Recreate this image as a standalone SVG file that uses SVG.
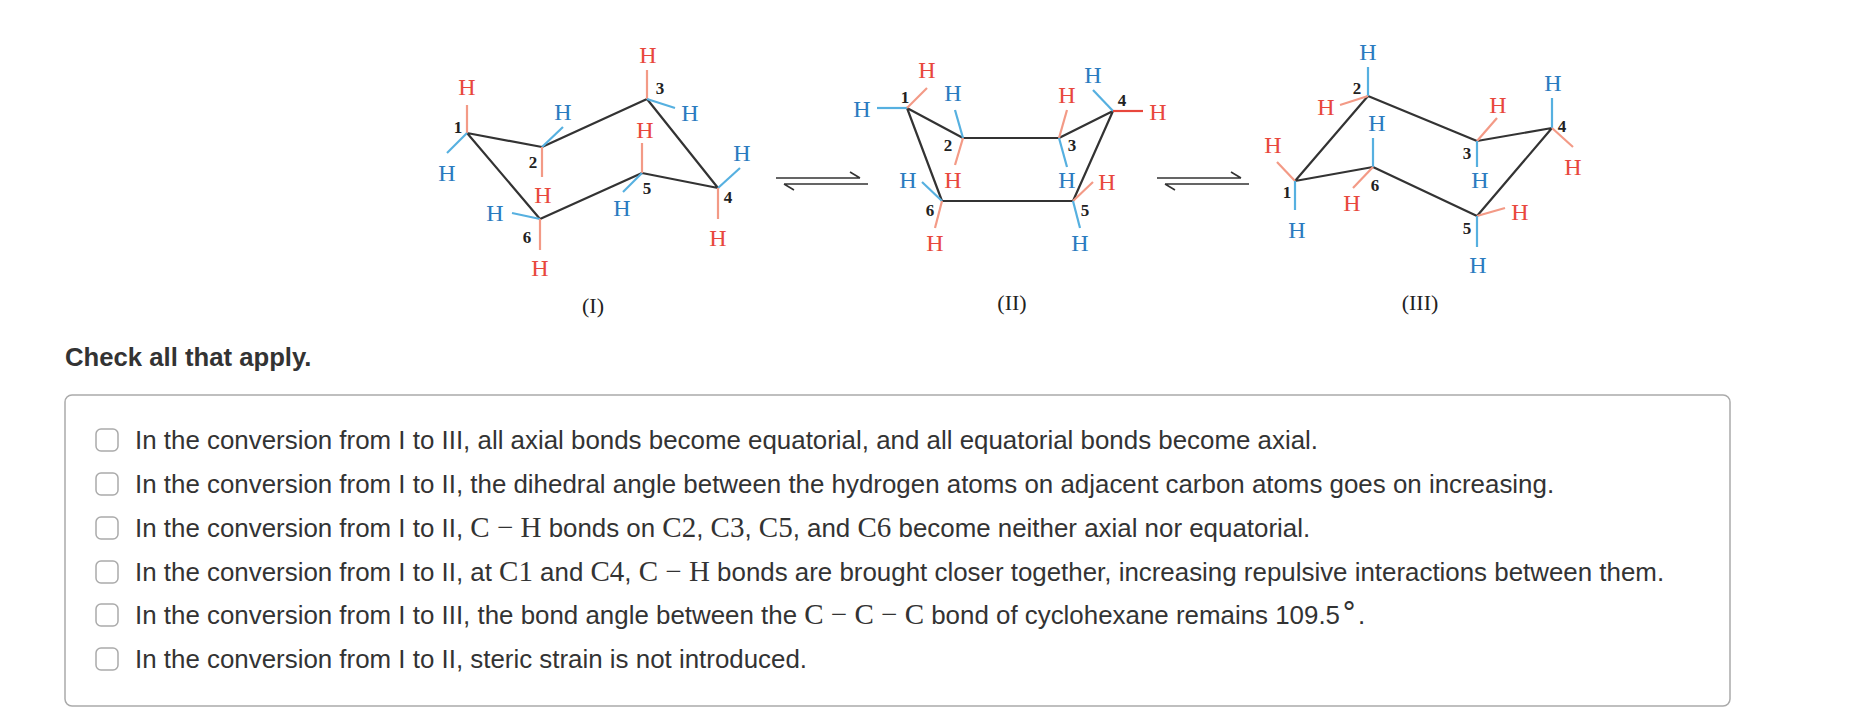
<svg xmlns="http://www.w3.org/2000/svg" width="1850" height="710" viewBox="0 0 1850 710">
<style>
.ring{stroke:#333;stroke-width:2.2;fill:none;stroke-linejoin:round}
.rb{stroke:#f39a86;stroke-width:2.2}
.bb{stroke:#56b0e0;stroke-width:2.2}
.hr{fill:#e8473c;font-family:"Liberation Serif",serif;font-size:24px;text-anchor:middle;dominant-baseline:central}
.hb{fill:#2a7bbf;font-family:"Liberation Serif",serif;font-size:24px;text-anchor:middle;dominant-baseline:central}
.n{fill:#222;font-family:"Liberation Serif",serif;font-size:17px;font-weight:bold;text-anchor:middle;dominant-baseline:central}
.lab{fill:#222;font-family:"Liberation Serif",serif;font-size:22px;text-anchor:middle;dominant-baseline:central}
.arr{stroke:#333;stroke-width:1.6;fill:none}
.opt{fill:#333;font-family:"Liberation Sans",Arial,sans-serif;font-size:25.9px}
.m{font-family:"Liberation Serif",serif;font-size:29px}
.cb{fill:#fff;stroke:#aaa;stroke-width:1.5}
</style>
<rect width="1850" height="710" fill="#fff"/>
<g id="structure-I">
<polygon class="ring" points="467,133 542,147 647,99 718,188 642,173 540,219"/>
<line class="rb" x1="467" y1="133" x2="467" y2="105"/><text class="hr" x="467" y="87">H</text>
<line class="bb" x1="467" y1="133" x2="447" y2="153"/><text class="hb" x="447" y="173">H</text>
<line class="bb" x1="542" y1="147" x2="563" y2="127"/><text class="hb" x="563" y="112">H</text>
<line class="rb" x1="542" y1="147" x2="542" y2="177"/><text class="hr" x="543" y="195">H</text>
<line class="rb" x1="647" y1="99" x2="647" y2="70"/><text class="hr" x="648" y="55">H</text>
<line class="bb" x1="647" y1="99" x2="675" y2="108"/><text class="hb" x="690" y="113">H</text>
<line class="bb" x1="718" y1="188" x2="740" y2="168"/><text class="hb" x="742" y="153">H</text>
<line class="rb" x1="718" y1="188" x2="718" y2="219"/><text class="hr" x="718" y="238">H</text>
<line class="rb" x1="642" y1="173" x2="642" y2="143"/><text class="hr" x="645" y="130">H</text>
<line class="bb" x1="642" y1="173" x2="623" y2="192"/><text class="hb" x="622" y="208">H</text>
<line class="bb" x1="540" y1="219" x2="512" y2="213"/><text class="hb" x="495" y="213">H</text>
<line class="rb" x1="540" y1="219" x2="540" y2="250"/><text class="hr" x="540" y="268">H</text>
<text class="n" x="458" y="127">1</text><text class="n" x="533" y="162">2</text><text class="n" x="660" y="88">3</text>
<text class="n" x="728" y="197">4</text><text class="n" x="647" y="188">5</text><text class="n" x="527" y="237">6</text>
<text class="lab" x="593" y="305">(I)</text>
</g>
<g id="structure-II">
<polyline class="ring" points="963,138 907,108 942,201 1073,201 1113,111 1059,138 963,138"/>
<line class="bb" x1="907" y1="108" x2="877" y2="108"/><text class="hb" x="862" y="109">H</text>
<line class="rb" x1="907" y1="108" x2="927" y2="88"/><text class="hr" x="927" y="70">H</text>
<line class="bb" x1="963" y1="138" x2="955" y2="110"/><text class="hb" x="953" y="93">H</text>
<line class="rb" x1="963" y1="138" x2="955" y2="165"/><text class="hr" x="953" y="180">H</text>
<line class="rb" x1="1059" y1="138" x2="1067" y2="110"/><text class="hr" x="1067" y="95">H</text>
<line class="bb" x1="1059" y1="138" x2="1067" y2="167"/><text class="hb" x="1067" y="180">H</text>
<line class="bb" x1="1113" y1="111" x2="1093" y2="90"/><text class="hb" x="1093" y="75">H</text>
<line class="rb" x1="1113" y1="111" x2="1143" y2="111" style="stroke:#e8473c"/><text class="hr" x="1158" y="112">H</text>
<line class="rb" x1="1073" y1="201" x2="1093" y2="182"/><text class="hr" x="1107" y="182">H</text>
<line class="bb" x1="1073" y1="201" x2="1080" y2="228"/><text class="hb" x="1080" y="243">H</text>
<line class="bb" x1="942" y1="201" x2="922" y2="182"/><text class="hb" x="908" y="180">H</text>
<line class="rb" x1="942" y1="201" x2="935" y2="228"/><text class="hr" x="935" y="243">H</text>
<text class="n" x="905" y="97">1</text><text class="n" x="948" y="145">2</text><text class="n" x="1072" y="145">3</text>
<text class="n" x="1122" y="100">4</text><text class="n" x="1085" y="210">5</text><text class="n" x="930" y="210">6</text>
<text class="lab" x="1012" y="302">(II)</text>
</g>
<g id="structure-III">
<polygon class="ring" points="1295,181 1368,96 1477,141 1552,128 1477,216 1373,167"/>
<line class="rb" x1="1295" y1="181" x2="1277" y2="162"/><text class="hr" x="1273" y="145">H</text>
<line class="bb" x1="1295" y1="181" x2="1295" y2="210"/><text class="hb" x="1297" y="230">H</text>
<line class="bb" x1="1368" y1="96" x2="1368" y2="67"/><text class="hb" x="1368" y="52">H</text>
<line class="rb" x1="1368" y1="96" x2="1340" y2="105"/><text class="hr" x="1326" y="107">H</text>
<line class="rb" x1="1477" y1="141" x2="1497" y2="118"/><text class="hr" x="1498" y="105">H</text>
<line class="bb" x1="1477" y1="141" x2="1477" y2="167"/><text class="hb" x="1480" y="180">H</text>
<line class="bb" x1="1552" y1="128" x2="1552" y2="98"/><text class="hb" x="1553" y="83">H</text>
<line class="rb" x1="1552" y1="128" x2="1573" y2="147"/><text class="hr" x="1573" y="167">H</text>
<line class="rb" x1="1477" y1="216" x2="1505" y2="208"/><text class="hr" x="1520" y="212">H</text>
<line class="bb" x1="1477" y1="216" x2="1477" y2="247"/><text class="hb" x="1478" y="265">H</text>
<line class="bb" x1="1373" y1="167" x2="1373" y2="138"/><text class="hb" x="1377" y="123">H</text>
<line class="rb" x1="1373" y1="167" x2="1353" y2="188"/><text class="hr" x="1352" y="203">H</text>
<text class="n" x="1287" y="192">1</text><text class="n" x="1357" y="88">2</text><text class="n" x="1467" y="153">3</text>
<text class="n" x="1562" y="126">4</text><text class="n" x="1467" y="228">5</text><text class="n" x="1375" y="185">6</text>
<text class="lab" x="1420" y="302">(III)</text>
</g>
<g id="connectors">
<path class="arr" d="M776,178 H860 M850,172 L860,178"/>
<path class="arr" d="M784,184 H868 M784,184 L794,190"/>
<path class="arr" d="M1157,178 H1241 M1231,172 L1241,178"/>
<path class="arr" d="M1165,184 H1249 M1165,184 L1175,190"/>
</g>
<text x="65" y="366" fill="#333" font-family="'Liberation Sans',Arial,sans-serif" font-size="25.7" font-weight="bold">Check all that apply.</text>
<rect x="65" y="395" width="1665" height="311" rx="7" fill="#fff" stroke="#aaa" stroke-width="1.5"/>
<g id="options">
<rect class="cb" x="96" y="429" width="22" height="22" rx="5"/>
<rect class="cb" x="96" y="473" width="22" height="22" rx="5"/>
<rect class="cb" x="96" y="517" width="22" height="22" rx="5"/>
<rect class="cb" x="96" y="561" width="22" height="22" rx="5"/>
<rect class="cb" x="96" y="604" width="22" height="22" rx="5"/>
<rect class="cb" x="96" y="648" width="22" height="22" rx="5"/>
<text class="opt" x="135" y="449">In the conversion from I to III, all axial bonds become equatorial, and all equatorial bonds become axial.</text>
<text class="opt" x="135" y="493">In the conversion from I to II, the dihedral angle between the hydrogen atoms on adjacent carbon atoms goes on increasing.</text>
<text class="opt" x="135" y="537">In the conversion from I to II, <tspan class="m">C − H</tspan> bonds on <tspan class="m">C2</tspan>, <tspan class="m">C3</tspan>, <tspan class="m">C5</tspan>, and <tspan class="m">C6</tspan> become neither axial nor equatorial.</text>
<text class="opt" x="135" y="581">In the conversion from I to II, at <tspan class="m">C1</tspan> and <tspan class="m">C4</tspan>, <tspan class="m">C − H</tspan> bonds are brought closer together, increasing repulsive interactions between them.</text>
<text class="opt" x="135" y="624">In the conversion from I to III, the bond angle between the <tspan class="m">C − C − C</tspan> bond of cyclohexane remains 109.5<tspan class="m" font-size="16" dy="-10">∘</tspan><tspan dy="10">.</tspan></text>
<text class="opt" x="135" y="668">In the conversion from I to II, steric strain is not introduced.</text>
</g>
</svg>
